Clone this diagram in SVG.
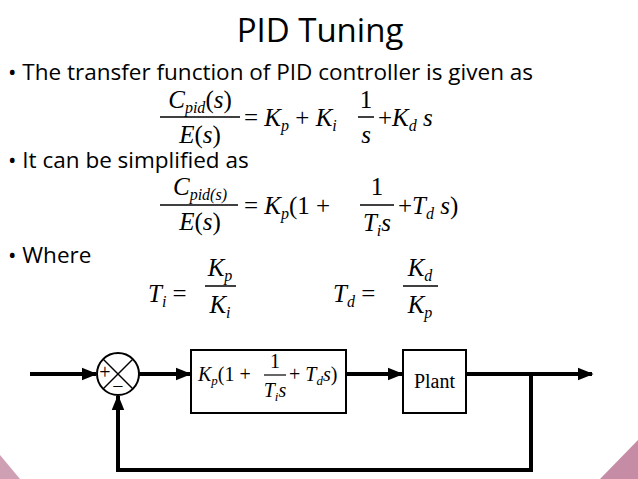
<svg xmlns="http://www.w3.org/2000/svg" width="638" height="479" viewBox="0 0 638 479">
<style>
.t{font-family:"Open Sans","Liberation Sans",sans-serif;fill:#000}
.m{font-family:"Liberation Serif",serif;font-style:italic;font-size:25px;fill:#000}
.u{font-family:"Liberation Serif",serif;font-style:normal;font-size:25px;fill:#000}
.b{font-family:"Liberation Serif",serif;font-size:20px;fill:#000}
.ln{stroke:#000;stroke-width:4;fill:none}
</style>
<defs><marker id="a" viewBox="0 0 10 10" refX="9" refY="5" markerWidth="4" markerHeight="4" orient="auto" markerUnits="strokeWidth"><path d="M0,1 L10,5 L0,9 z" fill="#000"/></marker></defs>
<rect width="638" height="479" fill="#fff"/>
<path d="M600,479 L638,440 L638,479 z" fill="#a0406a" opacity="0.6"/>
<path d="M0,455 L20,479 L0,479 z" fill="#a0406a" opacity="0.5"/>
<text class="t" x="320" y="42" font-size="33" text-anchor="middle">PID Tuning</text>
<text class="t" x="8" y="80" font-size="22.5">• The transfer function of PID controller is given as</text>
<text class="t" x="8" y="168" font-size="22.5">• It can be simplified as</text>
<text class="t" x="8" y="263" font-size="22.5">• Where</text>
<g id="eq1">
<text class="m" x="200" y="108" text-anchor="middle">C<tspan font-size="16" dy="5">pid</tspan><tspan class="u" dy="-5">(</tspan>s<tspan class="u">)</tspan></text>
<line x1="160" y1="117" x2="240" y2="117" stroke="#000" stroke-width="1.5"/>
<text class="m" x="200" y="143" text-anchor="middle">E<tspan class="u">(</tspan>s<tspan class="u">)</tspan></text>
<text class="m" x="244" y="126"><tspan class="u">= </tspan>K<tspan font-size="16" dy="5">p</tspan><tspan class="u" dy="-5"> + </tspan>K<tspan font-size="16" dy="5">i</tspan></text>
<text class="u" x="366" y="108" text-anchor="middle">1</text>
<line x1="358" y1="117" x2="374" y2="117" stroke="#000" stroke-width="1.5"/>
<text class="m" x="366" y="143" text-anchor="middle">s</text>
<text class="m" x="378" y="126"><tspan class="u">+</tspan>K<tspan font-size="16" dy="5">d</tspan><tspan dy="-5"> s</tspan></text>
</g>
<g id="eq2">
<text class="m" x="200" y="195" text-anchor="middle">C<tspan font-size="16" dy="5">pid(s)</tspan></text>
<line x1="160" y1="205" x2="238" y2="205" stroke="#000" stroke-width="1.5"/>
<text class="m" x="200" y="230" text-anchor="middle">E<tspan class="u">(</tspan>s<tspan class="u">)</tspan></text>
<text class="m" x="244" y="214"><tspan class="u">= </tspan>K<tspan font-size="16" dy="5">p</tspan><tspan class="u" dy="-5">(1 + </tspan></text>
<text class="u" x="377" y="195" text-anchor="middle">1</text>
<line x1="360" y1="205" x2="394" y2="205" stroke="#000" stroke-width="1.5"/>
<text class="m" x="377" y="231" text-anchor="middle">T<tspan font-size="16" dy="5">i</tspan><tspan dy="-5">s</tspan></text>
<text class="m" x="398" y="214"><tspan class="u">+</tspan>T<tspan font-size="16" dy="5">d</tspan><tspan dy="-5"> s</tspan><tspan class="u">)</tspan></text>
</g>
<g id="eq3">
<text class="m" x="148" y="302">T<tspan font-size="16" dy="5">i</tspan><tspan class="u" dy="-5"> =</tspan></text>
<text class="m" x="220" y="276" text-anchor="middle">K<tspan font-size="16" dy="5">p</tspan></text>
<line x1="205" y1="286" x2="236" y2="286" stroke="#000" stroke-width="1.5"/>
<text class="m" x="220" y="313" text-anchor="middle">K<tspan font-size="16" dy="5">i</tspan></text>
<text class="m" x="333" y="302">T<tspan font-size="16" dy="5">d</tspan><tspan class="u" dy="-5"> =</tspan></text>
<text class="m" x="420" y="276" text-anchor="middle">K<tspan font-size="16" dy="5">d</tspan></text>
<line x1="403" y1="286" x2="438" y2="286" stroke="#000" stroke-width="1.5"/>
<text class="m" x="420" y="313" text-anchor="middle">K<tspan font-size="16" dy="5">p</tspan></text>
</g>
<g id="sum">
<circle cx="118" cy="374" r="21" fill="#fff" stroke="#000" stroke-width="2"/>
<line x1="103" y1="359" x2="133" y2="389" stroke="#000" stroke-width="1.5"/>
<line x1="133" y1="359" x2="103" y2="389" stroke="#000" stroke-width="1.5"/>
<text class="b" x="105" y="379" font-size="15" text-anchor="middle">+</text>
<text class="b" x="118" y="393" font-size="15" text-anchor="middle">−</text>
</g>
<g id="pid">
<rect x="191" y="350" width="155" height="63" fill="#fff" stroke="#000" stroke-width="2"/>
<text class="b" x="198" y="381"><tspan font-style="italic">K</tspan><tspan font-size="13" font-style="italic" dy="4">p</tspan><tspan dy="-4">(1 +</tspan></text>
<text class="b" x="275" y="368" text-anchor="middle">1</text>
<line x1="264" y1="375" x2="286" y2="375" stroke="#000" stroke-width="1.2"/>
<text class="b" x="275" y="397" text-anchor="middle" font-style="italic">T<tspan font-size="13" dy="4">i</tspan><tspan dy="-4">s</tspan></text>
<text class="b" x="289" y="381">+ <tspan font-style="italic">T</tspan><tspan font-size="13" font-style="italic" dy="4">d</tspan><tspan font-style="italic" dy="-4">s</tspan>)</text>
</g>
<g id="plant">
<rect x="403" y="350" width="63" height="63" fill="#fff" stroke="#000" stroke-width="2"/>
<text class="b" x="434.5" y="388" text-anchor="middle">Plant</text>
</g>
<g id="connectors">
<line class="ln" x1="30" y1="374" x2="96" y2="374" marker-end="url(#a)"/>
<line class="ln" x1="139" y1="374" x2="190" y2="374" marker-end="url(#a)"/>
<line class="ln" x1="346" y1="374" x2="402" y2="374" marker-end="url(#a)"/>
<line class="ln" x1="466" y1="374" x2="592" y2="374" marker-end="url(#a)"/>
<polyline class="ln" points="531,374 531,470 118,470 118,396" marker-end="url(#a)"/>
</g>
</svg>
